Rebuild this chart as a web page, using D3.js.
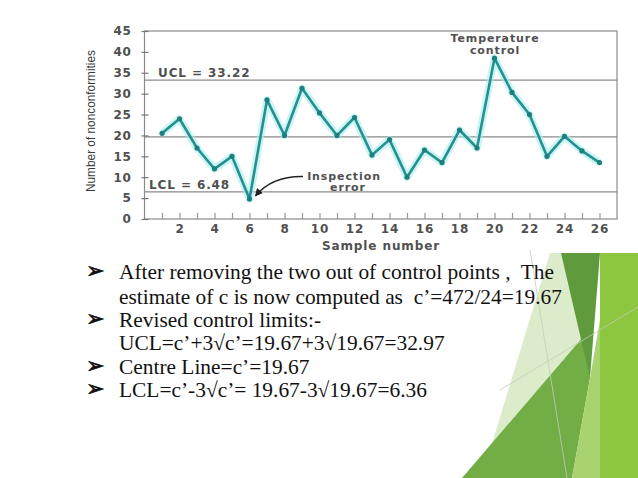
<!DOCTYPE html>
<html><head><meta charset="utf-8">
<script src="https://cdn.jsdelivr.net/npm/d3@7"></script>
<style>html,body{margin:0;padding:0;background:#fff;overflow:hidden}</style>
</head><body>
<svg id="c" width="638" height="478"></svg>
<script>
const samples = d3.range(1, 27);
const counts = [20.5, 24, 17, 12, 15, 4.8, 28.5, 20, 31.3, 25.4, 20, 24.3, 15.3, 19, 10, 16.5, 13.5, 21.3, 17, 38.5, 30.3, 25, 15, 19.8, 16.3, 13.5];
const yTicks = [0, 5, 10, 15, 20, 25, 30, 35, 40, 45];
const xTickLabels = [2, 4, 6, 8, 10, 12, 14, 16, 18, 20, 22, 24, 26];
const limits = [{name: "UCL", value: 33.22}, {name: "CL", value: 19.67}, {name: "LCL", value: 6.48}];
const limitLabels = ["UCL = 33.22", "LCL = 6.48"];
const bullets = [
  {b: true,  t: "After removing the two out of control points ,  The"},
  {b: false, t: "estimate of c is now computed as  c’=472/24=19.67"},
  {b: true,  t: "Revised control limits:-"},
  {b: false, t: "UCL=c’+3√c’=19.67+3√19.67=32.97"},
  {b: true,  t: "Centre Line=c’=19.67"},
  {b: true,  t: "LCL=c’-3√c’= 19.67-3√19.67=6.36"}
];

const svg = d3.select("#c");
const SANS = "DejaVu Sans, Verdana, sans-serif";
const GREY = "#505050";

// decoration (slide theme shapes)
const deco = [
  {c: "#dcebc9", p: [[550,253],[575,253],[583,340],[490,450]]},
  {c: "#72ad45", p: [[583,337],[590,378],[572,478],[462,478]]},
  {c: "#5f9a3c", p: [[561,253],[600,253],[590,378]]},
  {c: "#8dc63f", p: [[600,253],[638,253],[638,478],[590,478],[600,380]]},
  {c: "#a9d271", p: [[590,378],[600,320],[600,478],[572,478]]}
];
svg.append("g").selectAll("polygon").data(deco).join("polygon")
  .attr("points", d => d.p.map(q => q.join(",")).join(" "))
  .attr("fill", d => d.c);
const thin = [[[530,250],[567,478]], [[500,390],[638,307]]];
svg.append("g").selectAll("line").data(thin).join("line")
  .attr("x1", d => d[0][0]).attr("y1", d => d[0][1]).attr("x2", d => d[1][0]).attr("y2", d => d[1][1])
  .attr("stroke", "#c4cdbd").attr("stroke-width", 0.8);

const x = d3.scaleLinear().domain([0, 27]).range([144.5, 617]);
const y = d3.scaleLinear().domain([0, 45]).range([219, 31]);

const g = svg.append("g");
// frame
g.append("rect").attr("x", x(0)).attr("y", y(45)).attr("width", x(27) - x(0)).attr("height", y(0) - y(45))
  .attr("fill", "#fff").attr("stroke", "#8a8a8a").attr("stroke-width", 1.2);

// control limit lines
g.selectAll("line.lim").data(limits).join("line").attr("class", "lim")
  .attr("x1", x(0)).attr("x2", x(27)).attr("y1", d => y(d.value)).attr("y2", d => y(d.value))
  .attr("stroke", "#8a8a8a").attr("stroke-width", 1.3);

// y axis
const yAxis = d3.axisLeft(y).tickValues(yTicks).tickSize(-7).tickPadding(13);
const ya = g.append("g").attr("transform", `translate(${x(0)},0)`).call(yAxis);
ya.select(".domain").remove();
ya.selectAll(".tick line").attr("stroke", "#777").attr("stroke-width", 1.2).attr("transform", "translate(-3,0)");
ya.selectAll("text").attr("font-family", SANS).attr("font-size", 12)
  .attr("fill", GREY).attr("font-weight", "bold").attr("letter-spacing", 0.6);

// x axis
const xAxis = d3.axisBottom(x).tickValues(samples).tickSize(-6).tickPadding(5)
  .tickFormat(d => xTickLabels.includes(d) ? d : "");
const xa = g.append("g").attr("transform", `translate(0,${y(0)})`).call(xAxis);
xa.select(".domain").remove();
xa.selectAll(".tick line").attr("stroke", "#999").attr("stroke-width", 1.2);
xa.selectAll("text").attr("font-family", SANS).attr("font-size", 12)
  .attr("fill", GREY).attr("font-weight", "bold").attr("letter-spacing", 0.8);

// axis titles
g.append("text").attr("x", 381).attr("y", 250).attr("text-anchor", "middle")
  .attr("font-family", SANS).attr("font-size", 12).attr("font-weight", "bold")
  .attr("fill", GREY).attr("letter-spacing", 0.9).text("Sample number");
g.append("text").attr("transform", "translate(95,121) rotate(-90)").attr("text-anchor", "middle")
  .attr("font-family", "Liberation Sans Narrow, Liberation Sans, sans-serif").attr("font-size", 13)
  .attr("fill", "#3a3a3a").attr("textLength", 142).attr("lengthAdjust", "spacingAndGlyphs")
  .text("Number of nonconformities");

// limit labels
g.append("text").attr("x", 158).attr("y", y(33.22) - 3).attr("font-family", SANS)
  .attr("font-size", 12).attr("font-weight", "bold").attr("fill", GREY).attr("letter-spacing", 0.9).text(limitLabels[0]);
g.append("text").attr("x", 149).attr("y", y(6.48) - 3).attr("font-family", SANS)
  .attr("font-size", 12).attr("font-weight", "bold").attr("fill", GREY).attr("letter-spacing", 0.9).text(limitLabels[1]);

// series line with glow
const line = d3.line().x((d, i) => x(samples[i])).y(d => y(d));
g.append("path").datum(counts).attr("d", line).attr("fill", "none")
  .attr("stroke", "#a8eeee").attr("stroke-width", 7.5).attr("stroke-opacity", 0.6).attr("stroke-linejoin", "round");
g.append("path").datum(counts).attr("d", line).attr("fill", "none")
  .attr("stroke", "#25908f").attr("stroke-width", 2.6).attr("stroke-linejoin", "round");
g.selectAll("circle").data(counts).join("circle")
  .attr("cx", (d, i) => x(samples[i])).attr("cy", d => y(d)).attr("r", 2.6).attr("fill", "#1d7f7e");

// annotations
const tc = g.append("text").attr("text-anchor", "middle").attr("font-family", SANS).attr("font-size", 11)
  .attr("font-weight", "bold").attr("fill", GREY).attr("letter-spacing", 0.9);
tc.append("tspan").attr("x", 495).attr("y", 42).text("Temperature");
tc.append("tspan").attr("x", 495).attr("y", 53.5).text("control");
const ie = g.append("text").attr("text-anchor", "middle").attr("font-family", SANS).attr("font-size", 11)
  .attr("font-weight", "bold").attr("fill", GREY).attr("letter-spacing", 0.9);
ie.append("tspan").attr("x", 344).attr("y", 179.5).text("Inspection");
ie.append("tspan").attr("x", 348).attr("y", 191).text("error");
svg.append("defs").append("marker").attr("id", "ah").attr("viewBox", "0 0 10 10").attr("refX", 9).attr("refY", 5)
  .attr("markerWidth", 6).attr("markerHeight", 6).attr("orient", "auto")
  .append("path").attr("d", "M0,0 L10,5 L0,10 Z").attr("fill", "#222");
const p6 = [x(6), y(counts[5])];
g.append("path").attr("d", `M303,176.5 Q272,176 ${p6[0] + 6},${p6[1] - 3}`).attr("fill", "none")
  .attr("stroke", "#222").attr("stroke-width", 1.3).attr("marker-end", "url(#ah)");

// bullet text
const lineY = [279, 303.5, 327, 350, 373.5, 397];
const tg = svg.append("g");
bullets.forEach((d, i) => {
  if (d.b) tg.append("text").attr("x", 86).attr("y", lineY[i] - 1).attr("font-family", "DejaVu Sans")
    .attr("font-size", 22).attr("fill", "#111").attr("stroke", "#111").attr("stroke-width", 0.7).text("➢");
  tg.append("text").attr("x", 119).attr("y", lineY[i]).attr("font-family", "Liberation Serif, Times New Roman, serif")
    .attr("font-size", 21.4).attr("fill", "#111").style("white-space", "pre").text(d.t);
});
</script>
</body></html>
